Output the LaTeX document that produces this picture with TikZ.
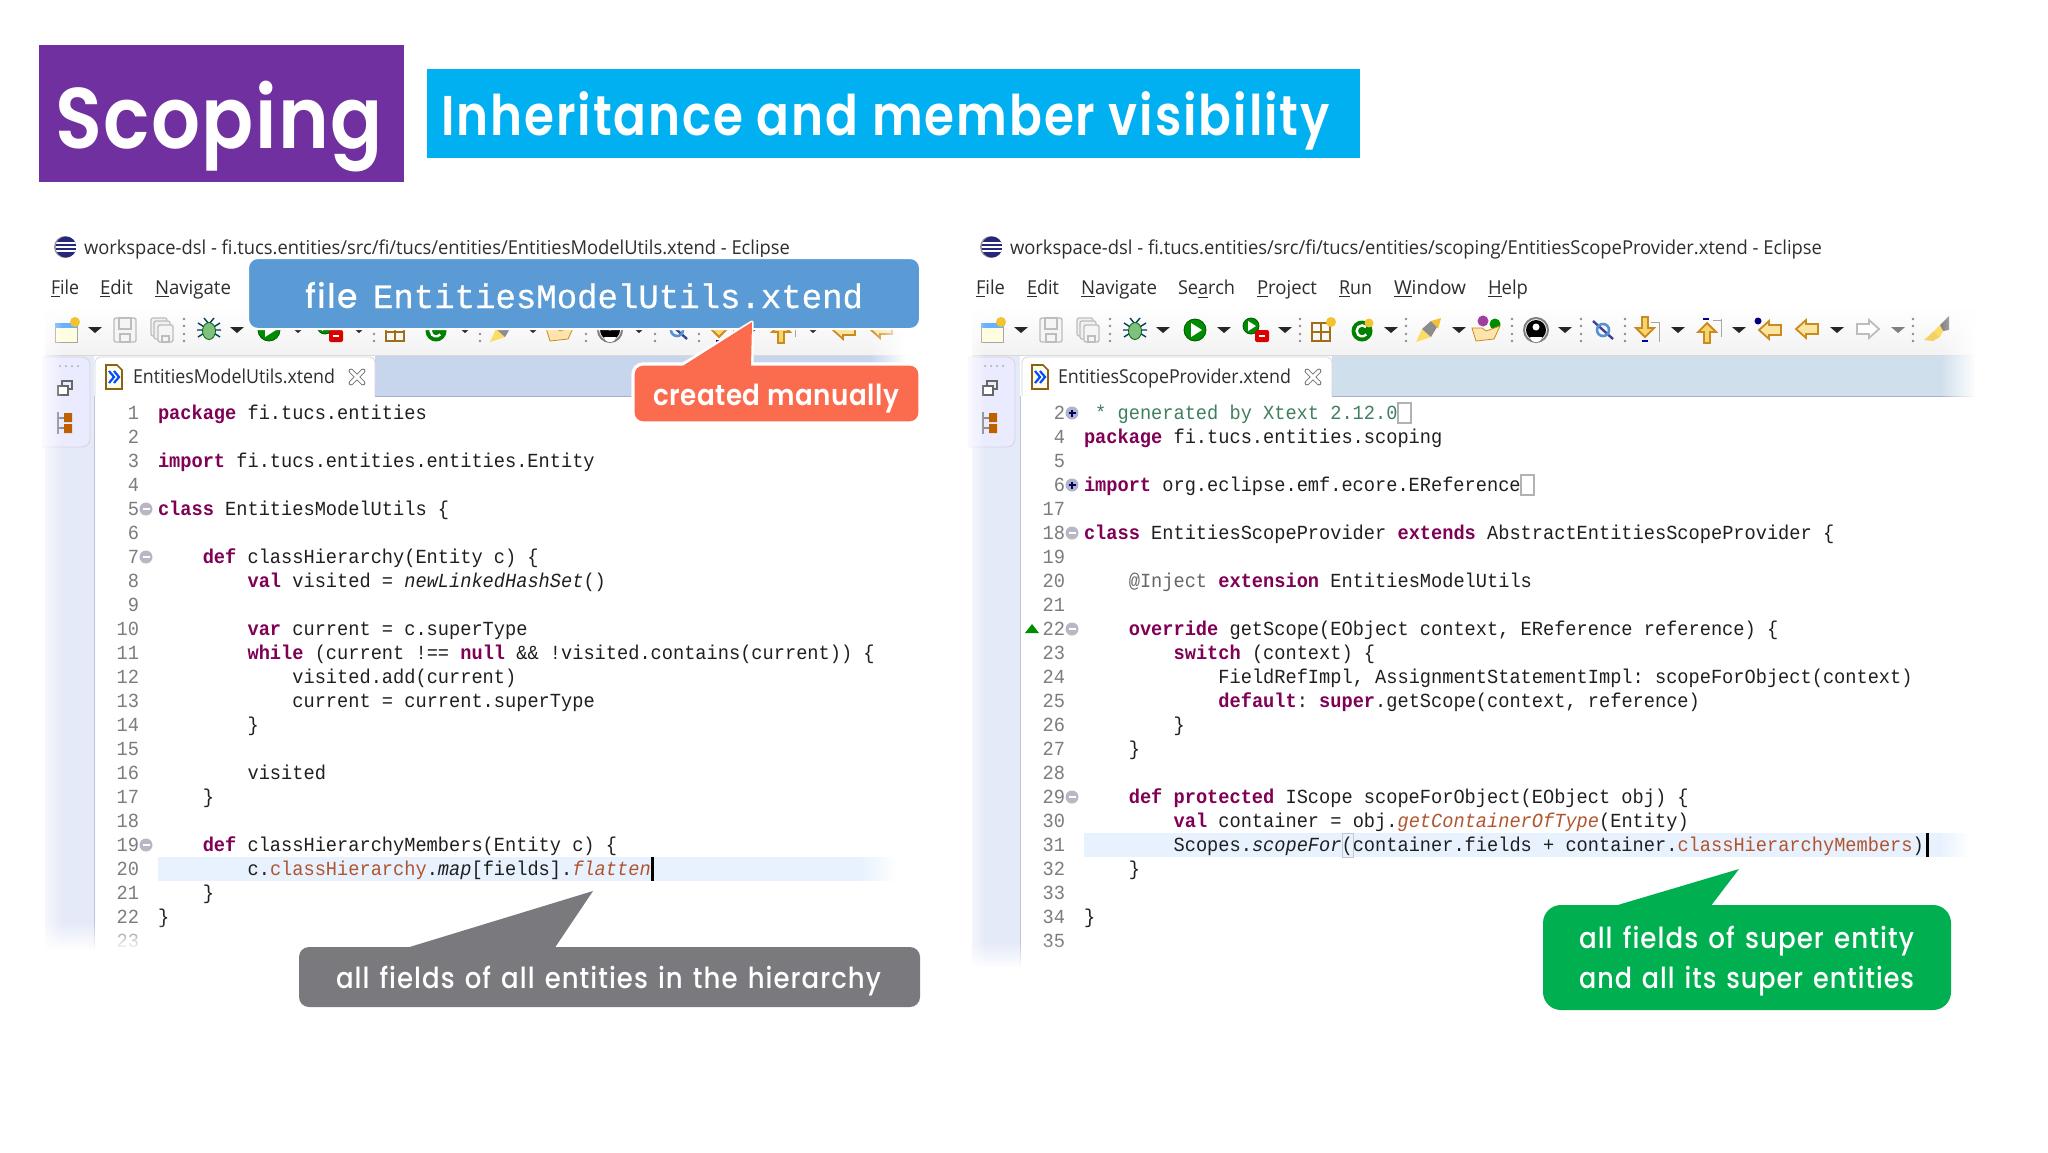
\documentclass[tikz,border=0pt]{standalone}
\usepackage{fontspec}
\usepackage{graphicx}
\usetikzlibrary{fadings}
\setmainfont{Open Sans}
\newfontfamily\cod[FakeStretch=0.933]{Liberation Mono}
\newfontfamily\popB[LetterSpace=2]{Poppins SemiBold}
\newfontfamily\popT[LetterSpace=4]{Poppins SemiBold}
\newfontfamily\popM[LetterSpace=4,WordSpace=1.3]{Poppins Medium}
\newfontfamily\mon[FakeBold=0.7]{Liberation Mono}
\definecolor{kw}{HTML}{7F0055}
\definecolor{ext}{HTML}{B0552F}
\definecolor{cmt}{HTML}{3F7F5F}
\definecolor{numc}{HTML}{7C7C7C}
\definecolor{ink}{HTML}{2E2E2E}
\definecolor{purp}{HTML}{7030A0}
\definecolor{sky}{HTML}{00B0F0}
\definecolor{cblue}{HTML}{5B9BD5}
\definecolor{cred}{HTML}{FB6B4E}
\definecolor{cgray}{HTML}{7A7A7E}
\definecolor{cgreen}{HTML}{00B050}
\definecolor{band}{HTML}{D0DFEC}
\definecolor{gutter}{HTML}{E5EAF8}
\definecolor{hl}{HTML}{E8F2FE}
\definecolor{gy}{HTML}{BDBDBD}
\definecolor{amber}{HTML}{F2C230}
\definecolor{amberd}{HTML}{C98A1E}
\tikzfading[name=fdL, left color=transparent!100, right color=transparent!0]
\tikzfading[name=fdR, left color=transparent!0, right color=transparent!100]
\tikzfading[name=fdB, top color=transparent!100, bottom color=transparent!0]
\newsavebox\fb
\newcommand\fitx[2]{\sbox\fb{#2}\resizebox{\dimexpr #1pt/2\relax}{\ht\fb}{\usebox\fb}}
\newcommand\K[1]{{\bfseries\color{kw}#1}}
\newcommand\E[1]{{\color{ext}#1}}
\newcommand\EI[1]{{\itshape\color{ext}#1}}
\newcommand\IT[1]{{\itshape #1}}
\newcounter{nid}
\newcommand\lcode[3]{\stepcounter{nid}\node[code] (c\arabic{nid}) at ({158+#1*11.2},{395+24*#2}) {#3};}
\newcommand\rcode[3]{\stepcounter{nid}\node[code] (c\arabic{nid}) at ({1084+#1*11.2},{395+24*#2}) {#3};}
\newcommand\tx[4]{\stepcounter{nid}\node[lbl] (t\arabic{nid}) at (#1,#2) {\fitx{#3}{#4}};}
\tikzset{
  code/.style={anchor=base west,inner sep=0pt,outer sep=0pt,font=\cod\fontsize{10pt}{12pt}\selectfont\frenchspacing,text=black!88},
  lnum/.style={anchor=base east,inner sep=0pt,outer sep=0pt,font=\cod\fontsize{10pt}{12pt}\selectfont,text=numc},
  lbl/.style={anchor=base west,inner sep=0pt,outer sep=0pt},
  ui/.style={text=ink,font=\fontsize{9.6pt}{12pt}\selectfont},
  foldm/.pic={\fill[blue!18!black!28] (0,0) circle (6.5);\draw[white,line width=.6pt] (-3.5,0)--(3.5,0);},
  foldp/.pic={\fill[blue!28!black!30] (0,0) circle (6.5);\draw[blue!40!black,line width=.6pt] (-3.5,0)--(3.5,0) (0,-3.5)--(0,3.5);},
  wnew/.pic={\draw[fill=yellow!12,draw=black!35] (-11,-8) rectangle (11,11);\fill[blue!50!cyan!60] (-11,-8) rectangle (11,-3);\fill[amber] (9,-9) circle (5);},
  flop/.pic={\draw[rounded corners=1pt,draw=gy,fill=black!4,line width=.7pt] (-11,-12) rectangle (11,12);\draw[gy,line width=.6pt] (-6,-12) rectangle (6,-1) (-5,12) rectangle (5,4);},
  flops/.pic={\draw[rounded corners=1pt,draw=gy,fill=black!6,line width=.6pt] (-11,-12) rectangle (5,6);\draw[rounded corners=1pt,draw=gy,fill=black!6,line width=.6pt] (-8,-9) rectangle (8,9);\draw[rounded corners=1pt,draw=gy,fill=black!4,line width=.7pt] (-4,-5) rectangle (11,12);\draw[gy,line width=.6pt] (0,12) rectangle (7,6);},
  bug/.pic={\draw[black!60!green!60!blue,line width=.7pt] (-11,-7)--(11,7) (-11,7)--(11,-7) (-12,0)--(12,0) (-5,-12)--(0,-6)--(5,-12);\draw[fill=green!35!gray!75,draw=black!60!green] (0,1) ellipse (6.5 and 8.5);},
  runic/.pic={\draw[fill=green!55!black,draw=green!35!black] (0,0) circle (11);\fill[white] (-4,-7)--(7,0)--(-4,7)--cycle;},
  runsm/.pic={\draw[fill=green!55!black,draw=green!35!black] (0,0) circle (8);\fill[white] (-3,-5)--(5,0)--(-3,5)--cycle;\fill[red!85!black,rounded corners=1pt] (4,4) rectangle (18,16);\fill[white] (8,9) rectangle (14,10.5);},
  pack/.pic={\draw[amberd!80!black,line width=1pt] (-11,-7) rectangle (7,11) (-11,2)--(7,2) (-2,-7)--(-2,11);\fill[amber] (8,-8) circle (5);},
  refr/.pic={\fill[green!50!black] (0,0) circle (10.5);\draw[white,line width=1.2pt] (4,-4) arc (-45:-320:5.5);\fill[amber] (7,-8) circle (4.5);},
  pinic/.pic={\fill[yellow!60!orange!60] (-13,12)--(-7,-1)--(2,7)--cycle;\fill[black!45] (-7,-1)--(2,-9)--(8,-3)--(2,7)--cycle;\fill[amber] (2,-9)--(12,-12)--(9,-1)--(8,-3)--cycle;},
  fold/.pic={\fill[violet!75] (-5,-8) circle (5.5);\fill[green!55!black] (7,-5) circle (5.5);\draw[fill=yellow!35!orange!30,draw=amberd] (-16,-1)--(-6,-1)--(-2,2)--(12,-3)--(6,10)--(-12,12)--cycle;},
  pers/.pic={\draw[black!50,fill=white,line width=1pt] (0,0) circle (12);\fill[black] (0,0) circle (10);\fill[white] (0,-3) circle (3.5);\fill[white] (-6,7) arc (180:0:6 and 5)--cycle;},
  linkic/.pic={\draw[blue!45!black!75,line width=1.2pt] (-10,-9)--(10,9);\draw[cyan!55!blue!70,line width=1.3pt] (0,0) circle (6);},
  ardn/.pic={\draw[fill=amber!70,draw=amberd,line width=.9pt] (-3,-11)--(3,-11)--(3,0)--(9,0)--(0,9)--(-9,0)--(-3,0)--cycle;\draw[black!35] (6,-6)--(14,-6) (14,-6)--(14,14);\fill[blue!60!black] (-3,12) rectangle (3,14);},
  arup/.pic={\draw[fill=amber!70,draw=amberd,line width=.9pt] (-3,14)--(3,14)--(3,3)--(9,3)--(0,-6)--(-9,3)--(-3,3)--cycle;\draw[black!35] (6,-9)--(14,-9) (14,-10)--(14,8);\fill[blue!60!black] (-4,-11) rectangle (2,-9);},
  arbk/.pic={\draw[fill=amber!45,draw=amberd,line width=.9pt] (-11,0)--(-1,-9)--(-1,-5)--(11,-5)--(11,5)--(-1,5)--(-1,9)--cycle;},
  arbb/.pic={\draw[fill=amber!45,draw=amberd,line width=.9pt] (-9,1)--(1,-8)--(1,-4)--(13,-4)--(13,6)--(1,6)--(1,10)--cycle;\fill[blue!50!black] (-10,-8) circle (3.5);},
  arfw/.pic={\draw[fill=white,draw=gy,line width=.9pt] (11,0)--(1,-9)--(1,-5)--(-11,-5)--(-11,5)--(1,5)--(1,9)--cycle;},
  hili/.pic={\fill[amber!75] (-13,12)--(-3,3)--(3,9)--(-4,13)--cycle;\fill[yellow!60!orange!60] (-3,3)--(3,-3)--(6,3)--(3,9)--cycle;\fill[black!50] (3,-3)--(12,-12)--(12,2)--(6,3)--cycle;},
  xfile/.pic={\draw[fill=yellow!8,draw=amberd!70!black,line width=.8pt] (-8,-12)--(3,-12)--(8,-7)--(8,12)--(-8,12)--cycle;\draw[blue!70!cyan,line width=1.1pt] (-5,-6)--(0,0)--(-5,6) (0,-6)--(5,0)--(0,6);},
  xclose/.pic={\draw[black!55,line width=2.4pt,line cap=round] (-6,-6)--(6,6) (-6,6)--(6,-6);\draw[white,line width=1.5pt,line cap=round] (-6,-6)--(6,6) (-6,6)--(6,-6);},
  ecl/.pic={\fill[black!40] (0,0) circle (11);\begin{scope}\clip (1,0) circle (10.5);\fill[blue!40!black!85] (-11,-11) rectangle (11,11);\draw[white,line width=.7pt] (-11,-4)--(11,-4) (-11,0)--(11,0) (-11,4)--(11,4);\end{scope}},
  restic/.pic={\draw[black!60,line width=.8pt] (-3,-7) rectangle (7,1);\draw[black!60,fill=white,line width=.8pt] (-7,-2) rectangle (3,7);},
  treeic/.pic={\draw[black!45,line width=.7pt] (-7,-11)--(-7,11) (-7,-5)--(1,-5) (-7,5)--(1,5);\fill[orange!75!black] (-1,-10) rectangle (7,-1) (-1,1) rectangle (7,10);}
}
\newcommand\toolicons{
  \foreach \x in {1021,1163,1224,1285,1391,1459,1565,1678,1739,1837}{\fill[black!85] (\x-7,327)--(\x+7,327)--(\x,333)--cycle;}
  \fill[black!50] (1898-7,327)--(1898+7,327)--(1898,333)--cycle;
  \foreach \x in {1110,1300,1406,1512,1581,1625,1913}{\foreach \y in {319,326,334,341}{\fill[black!45] (\x,\y) circle (1.4);}}
  \pic at (992,331) {wnew};
  \pic at (1051,330) {flop};
  \pic at (1088,330) {flops};
  \pic at (1135,330) {bug};
  \pic at (1195,330) {runic};
  \pic at (1251,326) {runsm};
  \pic at (1323,330) {pack};
  \pic at (1362,331) {refr};
  \pic at (1429,330) {pinic};
  \pic at (1488,329) {fold};
  \pic at (1536,330) {pers};
  \pic at (1603,330) {linkic};
  \pic at (1645,328) {ardn};
  \pic at (1707,329) {arup};
  \pic at (1768,329) {arbb};
  \pic at (1807,329) {arbk};
  \pic at (1868,329) {arfw};
  \pic at (1937,328) {hili};
}
\begin{document}
\begin{tikzpicture}[x=0.5pt,y=-0.5pt]
\useasboundingbox (0,0) rectangle (2048,1152);
\fill[white] (0,0) rectangle (2048,1152);
% header
\fill[purp] (39,45) rectangle (404,182);
\fill[sky] (427,69) rectangle (1360,158);
\node[lbl,text=white,font=\popB\fontsize{43pt}{50pt}\selectfont] (scoping) at (55,148) {\fitx{328}{Scoping}};
\node[lbl,text=white,font=\popT\fontsize{28pt}{34pt}\selectfont] (subtitle) at (441,135) {\fitx{889}{Inheritance and member visibility}};

% ===== window chrome, left
\fill[top color=white,bottom color=blue!4!black!5] (45,306) rectangle (905,355);
\draw[black!15] (45,355.5)--(905,355.5);
\fill[band!96!blue] (375,356) rectangle (905,396);
\draw[blue!30!gray!50] (375,396.5)--(905,396.5);
\fill[gutter] (45,356) rectangle (94,950);
\draw[fill=white!92!blue,draw=blue!12!gray!30,rounded corners=4pt] (42,357) -- (90,357) -- (90,447) -- (42,447);
\draw[blue!20!gray!40] (94,396)--(94,950);
\fill[white,rounded corners=4pt] (95,396) -- (95,357) -- (375,357) -- (375,396) -- cycle;
\draw[blue!15!gray!30] (95,396)--(95,362) arc (180:270:5)--(370,357) arc (-90:0:5)--(375,396);
\foreach \y in {60,66,72,78}{\fill[black!35] (\y,366) circle (1);}
\pic at (65,388) {restic};
\pic at (65,423) {treeic};
\pic at (114,377) {xfile};
\pic at (357,377) {xclose};
\begin{scope}
\clip (40,300) rectangle (905,356);
\begin{scope}[shift={(-926,0)}]
\toolicons
\end{scope}
\end{scope}
\fill[hl] (158,857) rectangle (895,881);
% ===== window chrome, right
\fill[top color=white,bottom color=blue!4!black!5] (972,306) rectangle (1975,355);
\draw[black!15] (972,355.5)--(1975,355.5);
\fill[band] (1332,356) rectangle (1975,396);
\draw[blue!30!gray!50] (1332,396.5)--(1975,396.5);
\fill[gutter] (972,356) rectangle (1020,967);
\draw[fill=white!92!blue,draw=blue!12!gray!30,rounded corners=4pt] (968,357) -- (1015,357) -- (1015,447) -- (968,447);
\draw[blue!20!gray!40] (1020,396)--(1020,967);
\fill[white,rounded corners=4pt] (1022,396) -- (1022,357) -- (1332,357) -- (1332,396) -- cycle;
\draw[blue!15!gray!30] (1022,396)--(1022,362) arc (180:270:5)--(1327,357) arc (-90:0:5)--(1332,396);
\foreach \y in {985,991,997,1003}{\fill[black!35] (\y,366) circle (1);}
\pic at (990,388) {restic};
\pic at (990,423) {treeic};
\pic at (1040,377) {xfile};
\pic at (1313,377) {xclose};
\toolicons
\fill[hl] (1084,833) rectangle (1968,857);
\draw[black!22] (1342,833) rectangle (1353,857);
\draw[black!30,line width=.6pt] (1398,403) rectangle (1411,423);
\draw[black!30,line width=.6pt] (1521,475) rectangle (1534,495);

% titles and menus
\pic at (65,247) {ecl};
\pic at (991,247) {ecl};
\begin{scope}[every node/.append style={ui}]
\tx{84}{254}{706}{workspace-dsl - fi.tucs.entities/src/fi/tucs/entities/EntitiesModelUtils.xtend - Eclipse}
\tx{1010}{254}{812}{workspace-dsl - fi.tucs.entities/src/fi/tucs/entities/scoping/EntitiesScopeProvider.xtend - Eclipse}
\tx{51}{294}{28}{\underline{F}ile}
\tx{100}{294}{33}{\underline{E}dit}
\tx{155}{294}{76}{\underline{N}avigate}
\tx{976}{294}{29}{\underline{F}ile}
\tx{1027}{294}{32}{\underline{E}dit}
\tx{1081}{294}{76}{\underline{N}avigate}
\tx{1178}{294}{57}{Se\underline{a}rch}
\tx{1257}{294}{60}{\underline{P}roject}
\tx{1339}{294}{33}{\underline{R}un}
\tx{1394}{294}{72}{\underline{W}indow}
\tx{1488}{294}{40}{\underline{H}elp}
\tx{133}{383}{202}{EntitiesModelUtils.xtend}
\tx{1058}{383}{233}{EntitiesScopeProvider.xtend}
\end{scope}

% line numbers
\foreach \n in {1,...,23}{\node[lnum] (ln\n) at (139,{395+24*\n}) {\n};}
\foreach \n/\r in {2/1,4/2,5/3,6/4,17/5,18/6,19/7,20/8,21/9,22/10,23/11,24/12,25/13,26/14,27/15,28/16,29/17,30/18,31/19,32/20,33/21,34/22,35/23}{\node[lnum] (rn\n) at (1065,{395+24*\r}) {\n};}
\pic at (146,509) {foldm};
\pic at (146,557) {foldm};
\pic at (146,845) {foldm};
\pic at (1072,413) {foldp};
\pic at (1072,485) {foldp};
\pic at (1072,533) {foldm};
\pic at (1072,629) {foldm};
\pic at (1072,797) {foldm};
\fill[green!55!black] (1025,633)--(1039,633)--(1032,624)--cycle;

% code, left
\lcode{0}{1}{\K{package} fi.tucs.entities}
\lcode{0}{3}{\K{import} fi.tucs.entities.entities.Entity}
\lcode{0}{5}{\K{class} EntitiesModelUtils \{}
\lcode{4}{7}{\K{def} classHierarchy(Entity c) \{}
\lcode{8}{8}{\K{val} visited = \IT{newLinkedHashSet}()}
\lcode{8}{10}{\K{var} current = c.superType}
\lcode{8}{11}{\K{while} (current !== \K{null} \&\& !visited.contains(current)) \{}
\lcode{12}{12}{visited.add(current)}
\lcode{12}{13}{current = current.superType}
\lcode{8}{14}{\}}
\lcode{8}{16}{visited}
\lcode{4}{17}{\}}
\lcode{4}{19}{\K{def} classHierarchyMembers(Entity c) \{}
\lcode{8}{20}{c.\E{classHierarchy}.\IT{map}[fields].\EI{flatten}}
\lcode{4}{21}{\}}
\lcode{0}{22}{\}}
\fill[black] (651,857) rectangle (653.5,881);
% code, right
\rcode{1}{1}{{\color{cmt}* generated by Xtext 2.12.0}}
\rcode{0}{2}{\K{package} fi.tucs.entities.scoping}
\rcode{0}{4}{\K{import} org.eclipse.emf.ecore.EReference}
\rcode{0}{6}{\K{class} EntitiesScopeProvider \K{extends} AbstractEntitiesScopeProvider \{}
\rcode{4}{8}{{\color{black!60}@Inject} \K{extension} EntitiesModelUtils}
\rcode{4}{10}{\K{override} getScope(EObject context, EReference reference) \{}
\rcode{8}{11}{\K{switch} (context) \{}
\rcode{12}{12}{FieldRefImpl, AssignmentStatementImpl: scopeForObject(context)}
\rcode{12}{13}{\K{default}: \K{super}.getScope(context, reference)}
\rcode{8}{14}{\}}
\rcode{4}{15}{\}}
\rcode{4}{17}{\K{def} \K{protected} IScope scopeForObject(EObject obj) \{}
\rcode{8}{18}{\K{val} container = obj.\EI{getContainerOfType}(Entity)}
\rcode{8}{19}{Scopes.\IT{scopeFor}(container.fields + container.\E{classHierarchyMembers})}
\rcode{4}{20}{\}}
\rcode{0}{22}{\}}
\fill[black] (1926,833) rectangle (1928.5,857);

% edge fades
\fill[white,path fading=fdR] (36,300) rectangle (62,960);
\fill[white,path fading=fdR] (962,300) rectangle (985,975);
\fill[white,path fading=fdL] (870,300) rectangle (906,400);
\fill[white,path fading=fdL] (860,855) rectangle (896,885);
\fill[white,path fading=fdL] (1940,300) rectangle (1976,400);
\fill[white,path fading=fdL] (1940,830) rectangle (1969,860);
\fill[white,path fading=fdB] (36,922) rectangle (300,950);
\fill[white] (36,950) rectangle (300,975);
\fill[white,path fading=fdB] (962,942) rectangle (1100,968);

% callouts
\fill[cblue,draw=white,line width=1pt,rounded corners=5pt] (248,258) rectangle (920,329);
\node[lbl,text=white,font=\popM\fontsize{17pt}{20pt}\selectfont] (filew) at (305,308) {\fitx{53}{file}};
\node[lbl,text=white,font=\mon\fontsize{17pt}{20pt}\selectfont] (fname) at (373,308) {\fitx{490}{EntitiesModelUtils.xtend}};

\coordinate (redtip) at (752,322);
\draw[white,line width=1.6pt,fill=cred,line join=round] (680,366)--(redtip)--(752,366);
\draw[white,line width=1.6pt,fill=cred,rounded corners=5pt] (633,364) rectangle (920,423);
\fill[cred] (681,367)--(redtip)--(751,367)--cycle;
\node[lbl,text=white,font=\popB\fontsize{14.5pt}{18pt}\selectfont] (created) at (653,405) {\fitx{246}{created manually}};

\coordinate (graytip) at (593,891);
\fill[cgray] (403,949)--(graytip)--(554,949)--cycle;
\fill[cgray,rounded corners=5pt] (299,947) rectangle (920,1007);
\node[lbl,text=white,font=\popM\fontsize{14.5pt}{18pt}\selectfont] (allf) at (336,988) {\fitx{545}{all fields of all entities in the hierarchy}};

\coordinate (greentip) at (1739,869);
\fill[cgreen] (1611,907)--(greentip)--(1710,907)--cycle;
\fill[cgreen,rounded corners=9pt] (1543,905) rectangle (1951,1010);
\node[lbl,text=white,font=\popM\fontsize{14.5pt}{18pt}\selectfont] (g1) at (1579,948) {\fitx{335}{all fields of super entity}};
\node[lbl,text=white,font=\popM\fontsize{14.5pt}{18pt}\selectfont] (g2) at (1579,988) {\fitx{335}{and all its super entities}};
\end{tikzpicture}
\end{document}
